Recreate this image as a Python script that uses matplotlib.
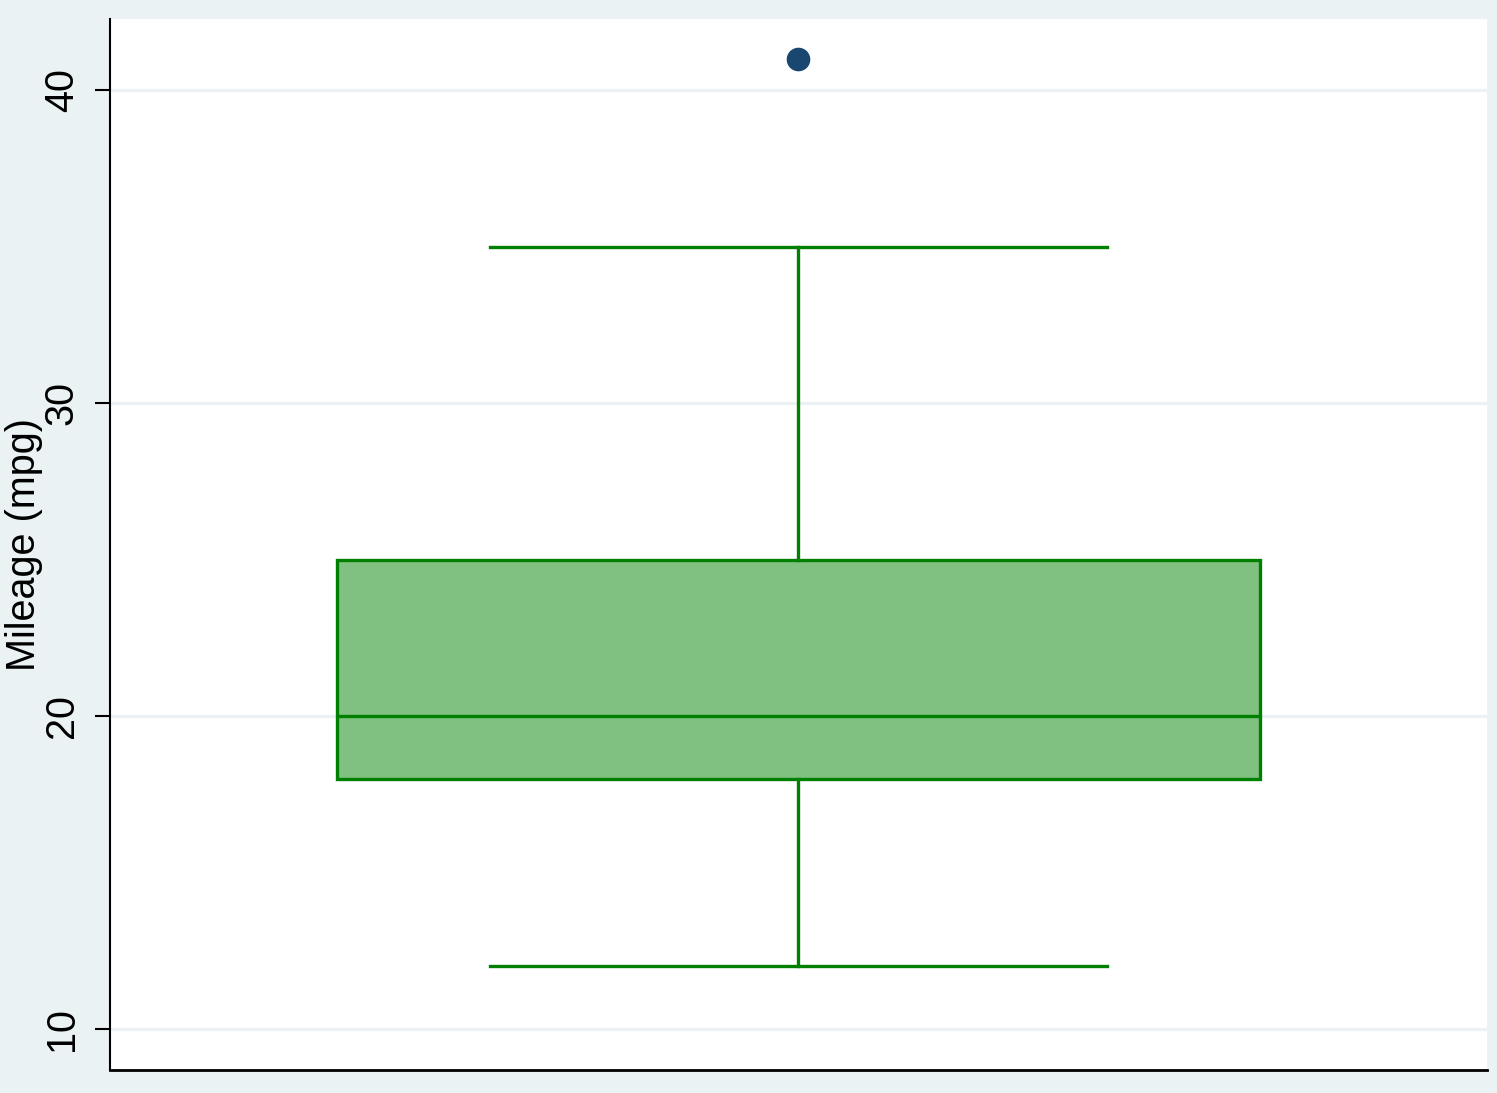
import matplotlib
matplotlib.use("Agg")
import matplotlib.pyplot as plt

# mpg summary (Stata auto data)
q1 = [18]
median = [20]
q3 = [25]
whisker_low = [12]
whisker_high = [35]
outliers = [[41]]
y_ticks = [10, 20, 30, 40]
y_label = "Mileage (mpg)"

plt.rcParams['font.family'] = ['Liberation Sans', 'DejaVu Sans']

stats = [{"q1": a, "med": m, "q3": b, "whislo": lo, "whishi": hi, "fliers": f}
         for a, m, b, lo, hi, f in zip(q1, median, q3, whisker_low, whisker_high, outliers)]

fig = plt.figure(figsize=(14.97, 10.93), dpi=100)
fig.patch.set_facecolor("#EAF2F3")
ax = fig.add_axes([0.0735, 0.021, 0.9198, 0.9616])
ax.set_facecolor("white")

green = "#008000"
ax.bxp(stats, positions=[0.5], widths=0.67, capwidths=0.448, patch_artist=True,
       boxprops=dict(facecolor="#80C080", edgecolor=green, linewidth=2.4),
       medianprops=dict(color=green, linewidth=2.4),
       whiskerprops=dict(color=green, linewidth=2.4),
       capprops=dict(color=green, linewidth=2.4),
       flierprops=dict(marker="o", markersize=16, markerfacecolor="#1A476F",
                       markeredgecolor="#1A476F"),
       zorder=3)

ax.set_xlim(0, 1)
ax.set_ylim(8.69, 42.27)
ax.set_yticks(y_ticks)
ax.set_yticklabels([str(t) for t in y_ticks], rotation=90, va="center", fontsize=28.5)
ax.tick_params(axis="y", length=11, width=1.5, pad=10)
ax.set_xticks([])
ax.grid(axis="y", color="#EAF2F3", linewidth=2.2, zorder=0)
ax.set_axisbelow(True)
ax.set_ylabel(y_label, fontsize=28.5, labelpad=0)

for s in ["top", "right"]:
    ax.spines[s].set_visible(False)
ax.spines["left"].set_linewidth(1.5)
ax.spines["bottom"].set_linewidth(2)

fig.savefig("out.png", dpi=100, facecolor=fig.get_facecolor())
